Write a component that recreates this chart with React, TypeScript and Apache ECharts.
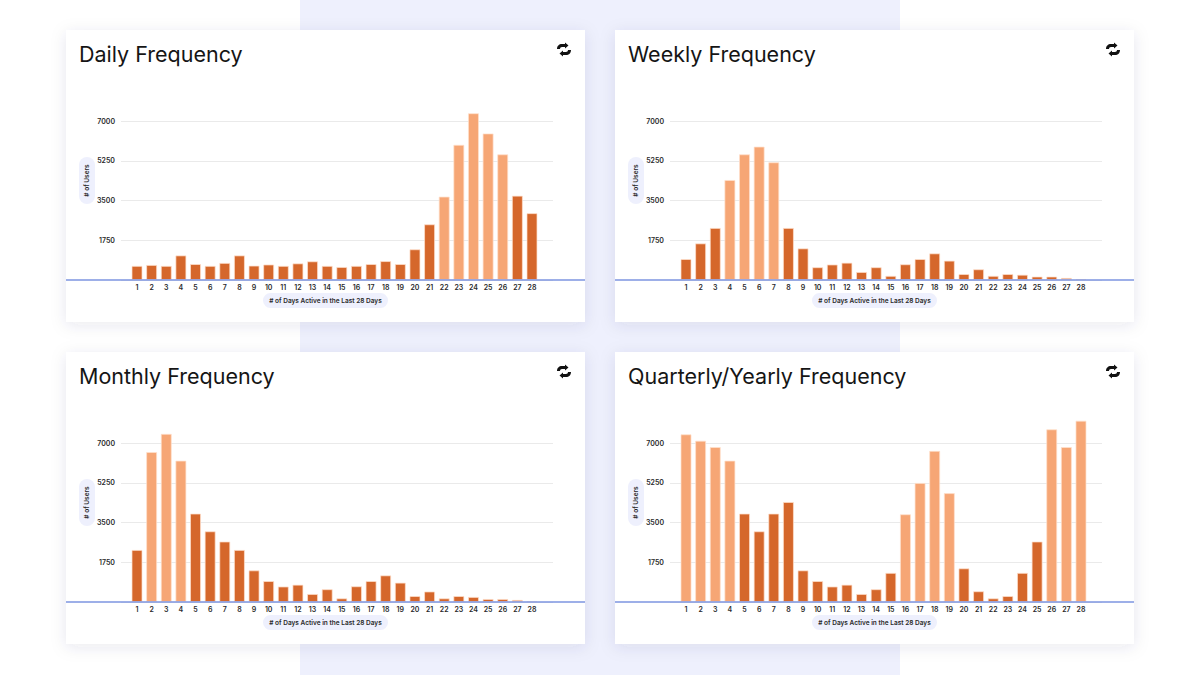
import React, { useEffect, useRef } from 'react';
import * as echarts from 'echarts';

// ---------- data ----------
const DAYS = ['1', '2', '3', '4', '5', '6', '7', '8', '9', '10', '11', '12', '13', '14', '15', '16', '17', '18', '19', '20', '21', '22', '23', '24', '25', '26', '27', '28'];
const Y_TICKS = [0, 1750, 3500, 5250, 7000];

const DAILY_TITLE = 'Daily Frequency';
const DAILY = [620, 660, 620, 1080, 700, 620, 750, 1080, 630, 680, 620, 730, 820, 620, 570, 620, 700, 830, 700, 1350, 2450, 3670, 5950, 7340, 6450, 5530, 3710, 2940];
const DAILY_LIGHT = [22, 23, 24, 25, 26];

const WEEKLY_TITLE = 'Weekly Frequency';
const WEEKLY = [920, 1610, 2290, 4400, 5530, 5870, 5180, 2290, 1390, 560, 680, 760, 350, 560, 180, 690, 920, 1170, 850, 260, 470, 180, 260, 230, 150, 150, 90, 40];
const WEEKLY_LIGHT = [4, 5, 6, 7];

const MONTHLY_TITLE = 'Monthly Frequency';
const MONTHLY = [2290, 6600, 7400, 6220, 3890, 3110, 2660, 2290, 1390, 920, 680, 760, 350, 560, 160, 690, 920, 1170, 850, 260, 460, 160, 260, 220, 130, 130, 90, 30];
const MONTHLY_LIGHT = [2, 3, 4];

const QUARTERLY_TITLE = 'Quarterly/Yearly Frequency';
const QUARTERLY = [7380, 7100, 6820, 6220, 3890, 3110, 3890, 4400, 1390, 920, 680, 760, 350, 560, 1280, 3860, 5240, 6650, 4790, 1480, 470, 160, 260, 1280, 2660, 7600, 6820, 7980];
const QUARTERLY_LIGHT = [1, 2, 3, 4, 16, 17, 18, 19, 26, 27, 28];

const Y_AXIS_NAME = '# of Users';
const X_AXIS_NAME = '# of Days Active in the Last 28 Days';

// ---------- style ----------
const DARK = '#D5672B';
const LIGHT = '#F6A675';
const PILL = '#EEF0FD';
const BASE_BLUE = '#7C94E0';
const FONT = 'Inter, "Noto Sans", sans-serif';

const LOGO_D =
  'M1 6 C1 3 3 1 6 1 L9 1 L9 -0.5 L12.5 2.5 L9 5.5 L9 4 L6 4 C4.8 4 4 4.8 4 6 Z ' +
  'M15 7 C15 10 13 12 10 12 L7 12 L7 13.5 L3.5 10.5 L7 7.5 L7 9 L10 9 C11.2 9 12 8.2 12 7 Z';
echarts.graphic.registerShape('logo', echarts.graphic.extendPath(LOGO_D, {}));

const PANELS = [
  { title: DAILY_TITLE, values: DAILY, light: DAILY_LIGHT },
  { title: WEEKLY_TITLE, values: WEEKLY, light: WEEKLY_LIGHT },
  { title: MONTHLY_TITLE, values: MONTHLY, light: MONTHLY_LIGHT },
  { title: QUARTERLY_TITLE, values: QUARTERLY, light: QUARTERLY_LIGHT },
];

const ORIGINS = [
  [66, 30],
  [615, 30],
  [66, 352],
  [615, 352],
];
const CARD_W = 519;
const CARD_H = 292;

function buildOption() {
  const grid: any[] = [];
  const xAxis: any[] = [];
  const yAxis: any[] = [];
  const series: any[] = [];
  const graphic: any[] = [];
  const yMin = Y_TICKS[0];
  const yMax = Y_TICKS[Y_TICKS.length - 1];
  const yStep = Y_TICKS[1] - Y_TICKS[0];

  graphic.push({
    type: 'rect',
    z: -100,
    shape: { x: 300, y: 0, width: 600, height: 675 },
    style: { fill: '#EEF0FD' },
    silent: true,
  });

  PANELS.forEach((p, i) => {
    const [L, T] = ORIGINS[i];
    const top = T + 91;
    const height = 159;
    grid.push({ left: L + 55, top, width: 432, height, containLabel: false });
    grid.push({ left: L + 63.7, top, width: 409.6, height, containLabel: false });
    const gl = 2 * i;
    const gb = 2 * i + 1;
    xAxis.push({ gridIndex: gl, type: 'category', data: DAYS, show: false });
    xAxis.push({
      gridIndex: gb,
      type: 'category',
      data: DAYS,
      axisLine: { show: false },
      axisTick: { show: false },
      axisLabel: {
        interval: 0,
        margin: 4,
        color: '#2a2a2a',
        fontSize: 7,
        fontWeight: 600,
        fontFamily: FONT,
      },
    });
    yAxis.push({
      gridIndex: gl,
      type: 'value',
      min: yMin,
      max: yMax,
      interval: yStep,
      axisLine: { show: false },
      axisTick: { show: false },
      axisLabel: {
        margin: 6,
        color: '#2a2a2a',
        fontSize: 7,
        fontWeight: 600,
        fontFamily: FONT,
        formatter: (v: number) => (v === 0 ? '' : String(v)),
      },
      splitLine: { lineStyle: { color: '#EAEAEA', width: 1 } },
    });
    yAxis.push({ gridIndex: gb, type: 'value', min: yMin, max: yMax, interval: yStep, show: false });
    series.push({
      type: 'bar',
      xAxisIndex: gb,
      yAxisIndex: gb,
      barWidth: '74%',
      clip: false,
      z: 3,
      data: p.values.map((v, k) => ({
        value: v,
        itemStyle: {
          color: p.light.indexOf(Number(DAYS[k])) >= 0 ? LIGHT : DARK,
          borderColor: 'rgba(255,225,205,0.9)',
          borderWidth: 0.8,
        },
      })),
    });

    graphic.push({
      type: 'rect',
      z: -50,
      shape: { x: L, y: T, width: CARD_W, height: CARD_H },
      style: {
        fill: '#ffffff',
        shadowBlur: 16,
        shadowColor: 'rgba(40,40,90,0.10)',
        shadowOffsetY: 3,
      },
      silent: true,
    });
    graphic.push({
      type: 'text',
      z: 20,
      x: L + 13,
      y: T + 24,
      style: {
        text: p.title,
        font: `400 21.5px ${FONT}`,
        fill: '#151515',
        align: 'left',
        verticalAlign: 'middle',
      },
    });
    graphic.push({
      type: 'logo',
      z: 20,
      x: L + 490,
      y: T + 13,
      scaleX: 1,
      scaleY: 1,
      style: { fill: '#111111' },
    });
    graphic.push({
      type: 'rect',
      z: 5,
      shape: { x: L + 13, y: T + 127, width: 16, height: 47, r: 8 },
      style: { fill: PILL },
    });
    graphic.push({
      type: 'text',
      z: 6,
      x: L + 21,
      y: T + 150.5,
      rotation: Math.PI / 2,
      style: {
        text: Y_AXIS_NAME,
        font: `600 6.5px ${FONT}`,
        fill: '#2a2a2a',
        align: 'center',
        verticalAlign: 'middle',
      },
    });
    graphic.push({
      type: 'rect',
      z: 5,
      shape: { x: L + 197, y: T + 263, width: 125, height: 15, r: 7.5 },
      style: { fill: PILL },
    });
    graphic.push({
      type: 'text',
      z: 6,
      x: L + 259.5,
      y: T + 270.5,
      style: {
        text: X_AXIS_NAME,
        font: `600 6.5px ${FONT}`,
        fill: '#2a2a2a',
        align: 'center',
        verticalAlign: 'middle',
      },
    });
    graphic.push({
      type: 'line',
      z: 10,
      shape: { x1: L, y1: top + height, x2: L + CARD_W, y2: top + height },
      style: { stroke: BASE_BLUE, lineWidth: 1.5 },
    });
  });

  return {
    animation: false,
    backgroundColor: '#ffffff',
    grid,
    xAxis,
    yAxis,
    series,
    graphic: { elements: graphic },
  };
}

export default function App() {
  const ref = useRef<HTMLDivElement>(null);
  useEffect(() => {
    if (!ref.current) return;
    const chart = echarts.init(ref.current, undefined, { renderer: 'svg' });
    chart.setOption(buildOption() as any);
    return () => chart.dispose();
  }, []);
  return (
    <div
      ref={ref}
      style={{ position: 'absolute', left: 0, top: 0, width: 1200, height: 675 }}
    />
  );
}
